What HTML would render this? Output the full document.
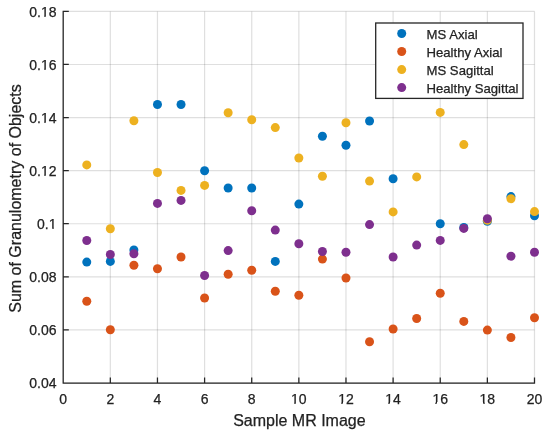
<!DOCTYPE html>
<html><head><meta charset="utf-8"><style>
html,body{margin:0;padding:0;background:#fff;}
svg{display:block;}
text{font-family:"Liberation Sans",sans-serif;fill:#222;stroke:#222;stroke-width:0.25px;}
</style></head><body>
<svg width="550" height="434" viewBox="0 0 550 434">
<rect width="550" height="434" fill="#fff"/>
<g stroke="#262626" stroke-opacity="0.15" stroke-width="1.2"><line x1="63.20" y1="11.40" x2="63.20" y2="383.00"/><line x1="110.33" y1="11.40" x2="110.33" y2="383.00"/><line x1="157.46" y1="11.40" x2="157.46" y2="383.00"/><line x1="204.59" y1="11.40" x2="204.59" y2="383.00"/><line x1="251.72" y1="11.40" x2="251.72" y2="383.00"/><line x1="298.85" y1="11.40" x2="298.85" y2="383.00"/><line x1="345.98" y1="11.40" x2="345.98" y2="383.00"/><line x1="393.11" y1="11.40" x2="393.11" y2="383.00"/><line x1="440.24" y1="11.40" x2="440.24" y2="383.00"/><line x1="487.37" y1="11.40" x2="487.37" y2="383.00"/><line x1="534.50" y1="11.40" x2="534.50" y2="383.00"/><line x1="63.20" y1="383.00" x2="534.50" y2="383.00"/><line x1="63.20" y1="329.91" x2="534.50" y2="329.91"/><line x1="63.20" y1="276.83" x2="534.50" y2="276.83"/><line x1="63.20" y1="223.74" x2="534.50" y2="223.74"/><line x1="63.20" y1="170.66" x2="534.50" y2="170.66"/><line x1="63.20" y1="117.57" x2="534.50" y2="117.57"/><line x1="63.20" y1="64.49" x2="534.50" y2="64.49"/><line x1="63.20" y1="11.40" x2="534.50" y2="11.40"/></g>
<path d="M63.20,11.40V383.00H534.50M63.20,383.00V378.00M110.33,383.00V378.00M157.46,383.00V378.00M204.59,383.00V378.00M251.72,383.00V378.00M298.85,383.00V378.00M345.98,383.00V378.00M393.11,383.00V378.00M440.24,383.00V378.00M487.37,383.00V378.00M534.50,383.00V378.00M63.20,383.00H68.20M63.20,329.91H68.20M63.20,276.83H68.20M63.20,223.74H68.20M63.20,170.66H68.20M63.20,117.57H68.20M63.20,64.49H68.20M63.20,11.40H68.20" fill="none" stroke="#262626" stroke-width="1.25" stroke-linecap="square"/>
<g font-size="14"><text x="56.5" y="388.40" text-anchor="end">0.04</text><text x="56.5" y="335.31" text-anchor="end">0.06</text><text x="56.5" y="282.23" text-anchor="end">0.08</text><text x="56.5" y="229.14" text-anchor="end">0.1</text><text x="56.5" y="176.06" text-anchor="end">0.12</text><text x="56.5" y="122.97" text-anchor="end">0.14</text><text x="56.5" y="69.89" text-anchor="end">0.16</text><text x="56.5" y="16.80" text-anchor="end">0.18</text><text x="63.20" y="403.6" text-anchor="middle">0</text><text x="110.33" y="403.6" text-anchor="middle">2</text><text x="157.46" y="403.6" text-anchor="middle">4</text><text x="204.59" y="403.6" text-anchor="middle">6</text><text x="251.72" y="403.6" text-anchor="middle">8</text><text x="298.85" y="403.6" text-anchor="middle">10</text><text x="345.98" y="403.6" text-anchor="middle">12</text><text x="393.11" y="403.6" text-anchor="middle">14</text><text x="440.24" y="403.6" text-anchor="middle">16</text><text x="487.37" y="403.6" text-anchor="middle">18</text><text x="534.50" y="403.6" text-anchor="middle">20</text></g>
<text x="299.4" y="425.7" text-anchor="middle" font-size="16">Sample MR Image</text>
<text transform="translate(20.7,198.5) rotate(-90)" x="0" y="0" text-anchor="middle" font-size="16">Sum of Granulometry of Objects</text>
<g fill="#0072BD"><circle cx="86.77" cy="262.10" r="4.5"/><circle cx="110.33" cy="261.40" r="4.5"/><circle cx="133.90" cy="249.90" r="4.5"/><circle cx="157.46" cy="104.50" r="4.5"/><circle cx="181.03" cy="104.50" r="4.5"/><circle cx="204.59" cy="170.70" r="4.5"/><circle cx="228.15" cy="188.00" r="4.5"/><circle cx="251.72" cy="188.00" r="4.5"/><circle cx="275.28" cy="261.40" r="4.5"/><circle cx="298.85" cy="204.10" r="4.5"/><circle cx="322.42" cy="136.20" r="4.5"/><circle cx="345.98" cy="145.30" r="4.5"/><circle cx="369.55" cy="121.00" r="4.5"/><circle cx="393.11" cy="178.80" r="4.5"/><circle cx="440.24" cy="223.80" r="4.5"/><circle cx="463.81" cy="227.50" r="4.5"/><circle cx="487.37" cy="221.20" r="4.5"/><circle cx="510.94" cy="196.60" r="4.5"/><circle cx="534.50" cy="215.80" r="4.5"/></g>
<g fill="#D95319"><circle cx="86.77" cy="301.30" r="4.5"/><circle cx="110.33" cy="329.70" r="4.5"/><circle cx="133.90" cy="265.30" r="4.5"/><circle cx="157.46" cy="268.80" r="4.5"/><circle cx="181.03" cy="257.00" r="4.5"/><circle cx="204.59" cy="298.00" r="4.5"/><circle cx="228.15" cy="274.30" r="4.5"/><circle cx="251.72" cy="270.20" r="4.5"/><circle cx="275.28" cy="291.20" r="4.5"/><circle cx="298.85" cy="295.20" r="4.5"/><circle cx="322.42" cy="259.10" r="4.5"/><circle cx="345.98" cy="278.00" r="4.5"/><circle cx="369.55" cy="341.70" r="4.5"/><circle cx="393.11" cy="329.00" r="4.5"/><circle cx="416.68" cy="318.50" r="4.5"/><circle cx="440.24" cy="293.20" r="4.5"/><circle cx="463.81" cy="321.40" r="4.5"/><circle cx="487.37" cy="330.10" r="4.5"/><circle cx="510.94" cy="337.50" r="4.5"/><circle cx="534.50" cy="317.70" r="4.5"/></g>
<g fill="#EDB120"><circle cx="86.77" cy="164.90" r="4.5"/><circle cx="110.33" cy="228.70" r="4.5"/><circle cx="133.90" cy="120.70" r="4.5"/><circle cx="157.46" cy="172.50" r="4.5"/><circle cx="181.03" cy="190.40" r="4.5"/><circle cx="204.59" cy="185.40" r="4.5"/><circle cx="228.15" cy="112.80" r="4.5"/><circle cx="251.72" cy="119.70" r="4.5"/><circle cx="275.28" cy="127.60" r="4.5"/><circle cx="298.85" cy="158.00" r="4.5"/><circle cx="322.42" cy="176.30" r="4.5"/><circle cx="345.98" cy="122.70" r="4.5"/><circle cx="369.55" cy="181.10" r="4.5"/><circle cx="393.11" cy="211.90" r="4.5"/><circle cx="416.68" cy="176.90" r="4.5"/><circle cx="440.24" cy="112.40" r="4.5"/><circle cx="463.81" cy="144.60" r="4.5"/><circle cx="487.37" cy="220.30" r="4.5"/><circle cx="510.94" cy="198.70" r="4.5"/><circle cx="534.50" cy="211.60" r="4.5"/></g>
<g fill="#7E2F8E"><circle cx="86.77" cy="240.50" r="4.5"/><circle cx="110.33" cy="254.50" r="4.5"/><circle cx="133.90" cy="253.80" r="4.5"/><circle cx="157.46" cy="203.40" r="4.5"/><circle cx="181.03" cy="200.40" r="4.5"/><circle cx="204.59" cy="275.50" r="4.5"/><circle cx="228.15" cy="250.60" r="4.5"/><circle cx="251.72" cy="210.70" r="4.5"/><circle cx="275.28" cy="230.10" r="4.5"/><circle cx="298.85" cy="243.70" r="4.5"/><circle cx="322.42" cy="251.50" r="4.5"/><circle cx="345.98" cy="252.20" r="4.5"/><circle cx="369.55" cy="224.60" r="4.5"/><circle cx="393.11" cy="257.00" r="4.5"/><circle cx="416.68" cy="245.10" r="4.5"/><circle cx="440.24" cy="240.40" r="4.5"/><circle cx="463.81" cy="228.40" r="4.5"/><circle cx="487.37" cy="218.80" r="4.5"/><circle cx="510.94" cy="256.20" r="4.5"/><circle cx="534.50" cy="252.20" r="4.5"/></g>
<g fill="#fff" shape-rendering="crispEdges"><rect x="49" y="227" width="3" height="3"/><rect x="54" y="227" width="3" height="3"/><rect x="52" y="229" width="2" height="1"/><rect x="52" y="228" width="2" height="1" fill-opacity="0.35"/><rect x="41" y="174" width="3" height="3"/><rect x="46" y="174" width="3" height="3"/><rect x="44" y="176" width="2" height="1"/><rect x="44" y="175" width="2" height="1" fill-opacity="0.35"/><rect x="41" y="121" width="3" height="3"/><rect x="46" y="121" width="3" height="3"/><rect x="44" y="123" width="2" height="1"/><rect x="44" y="122" width="2" height="1" fill-opacity="0.35"/><rect x="41" y="68" width="3" height="3"/><rect x="46" y="68" width="3" height="3"/><rect x="44" y="70" width="2" height="1"/><rect x="44" y="69" width="2" height="1" fill-opacity="0.35"/><rect x="41" y="15" width="3" height="3"/><rect x="46" y="15" width="3" height="3"/><rect x="44" y="17" width="2" height="1"/><rect x="44" y="16" width="2" height="1" fill-opacity="0.35"/><rect x="291" y="402" width="3" height="3"/><rect x="296" y="402" width="3" height="3"/><rect x="294" y="404" width="2" height="1"/><rect x="294" y="403" width="2" height="1" fill-opacity="0.35"/><rect x="338" y="402" width="3" height="3"/><rect x="343" y="402" width="3" height="3"/><rect x="341" y="404" width="2" height="1"/><rect x="341" y="403" width="2" height="1" fill-opacity="0.35"/><rect x="385" y="402" width="3" height="3"/><rect x="390" y="402" width="3" height="3"/><rect x="388" y="404" width="2" height="1"/><rect x="388" y="403" width="2" height="1" fill-opacity="0.35"/><rect x="432" y="402" width="3" height="3"/><rect x="437" y="402" width="3" height="3"/><rect x="435" y="404" width="2" height="1"/><rect x="435" y="403" width="2" height="1" fill-opacity="0.35"/><rect x="480" y="402" width="3" height="3"/><rect x="485" y="402" width="3" height="3"/><rect x="483" y="404" width="2" height="1"/><rect x="483" y="403" width="2" height="1" fill-opacity="0.35"/></g>
<rect x="375.7" y="23.0" width="147.3" height="75.4" fill="#fff" stroke="#262626" stroke-width="1.3"/>
<circle cx="401.7" cy="33.5" r="4.5" fill="#0072BD"/><text x="426.5" y="38.90" font-size="13.15">MS Axial</text>
<circle cx="401.7" cy="51.55" r="4.5" fill="#D95319"/><text x="426.5" y="56.95" font-size="13.15">Healthy Axial</text>
<circle cx="401.7" cy="69.6" r="4.5" fill="#EDB120"/><text x="426.5" y="75.00" font-size="13.15">MS Sagittal</text>
<circle cx="401.7" cy="87.6" r="4.5" fill="#7E2F8E"/><text x="426.5" y="93.00" font-size="13.15">Healthy Sagittal</text>
</svg>
</body></html>
